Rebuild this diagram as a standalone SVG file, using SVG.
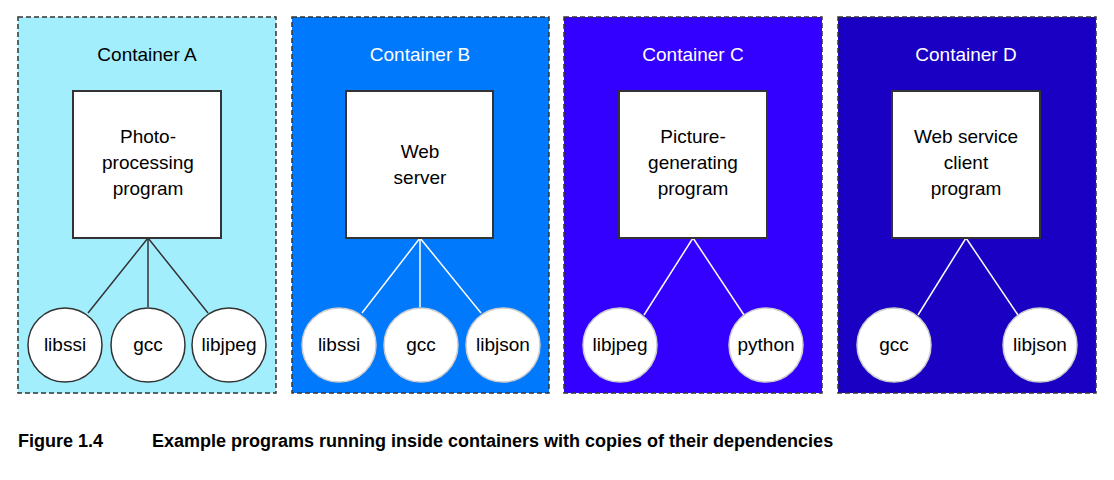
<svg xmlns="http://www.w3.org/2000/svg" width="1114" height="480" viewBox="0 0 1114 480">
<style>
text{font-family:"Liberation Sans",Arial,sans-serif;font-size:19px;text-anchor:middle}
.cont{stroke:#333;stroke-width:1.5;stroke-dasharray:5,3}
.box{fill:#fff;stroke:#333;stroke-width:2}
.lib{fill:#fff;stroke:#333;stroke-width:1.5}
.libw{fill:#fff;stroke:#ccc;stroke-width:1.5}
.t{fill:#fff}
.dk{stroke:#333;stroke-width:1.5}
.lt{stroke:#fff;stroke-width:1.5}
.cap{font-weight:bold;font-size:18px;text-anchor:start}
</style>
<rect width="1114" height="480" fill="#fff"/>
<g id="containerA"><rect class="cont" x="18" y="17" width="258" height="376" fill="#a3eefd"/><text x="147" y="61">Container A</text></g>
<g id="containerB"><rect class="cont" x="292" y="17" width="257" height="376" fill="#0079fd"/><text class="t" x="420" y="61">Container B</text></g>
<g id="containerC"><rect class="cont" x="564" y="17" width="258" height="376" fill="#3300ff"/><text class="t" x="693" y="61">Container C</text></g>
<g id="containerD"><rect class="cont" x="838" y="17" width="258" height="376" fill="#1a00c2"/><text class="t" x="966" y="61">Container D</text></g>
<g id="connectors">
<line class="dk" x1="148" y1="238" x2="88" y2="313"/><line class="dk" x1="148" y1="238" x2="148" y2="307"/><line class="dk" x1="148" y1="238" x2="208" y2="313"/>
<line class="lt" x1="420" y1="238" x2="362" y2="313"/><line class="lt" x1="420" y1="238" x2="420" y2="307"/><line class="lt" x1="420" y1="238" x2="481" y2="313"/>
<line class="lt" x1="693" y1="238" x2="644" y2="315"/><line class="lt" x1="693" y1="238" x2="744" y2="315"/>
<line class="lt" x1="966" y1="238" x2="918" y2="315"/><line class="lt" x1="966" y1="238" x2="1018" y2="315"/>
</g>
<g id="progA"><rect class="box" x="73" y="91" width="148" height="147"/><text x="148" y="143">Photo-</text><text x="148" y="169">processing</text><text x="148" y="195">program</text></g>
<g id="progB"><rect class="box" x="346" y="91" width="147" height="147"/><text x="420" y="158">Web</text><text x="420" y="184">server</text></g>
<g id="progC"><rect class="box" x="619" y="91" width="148" height="147"/><text x="693" y="143">Picture-</text><text x="693" y="169">generating</text><text x="693" y="195">program</text></g>
<g id="progD"><rect class="box" x="892" y="91" width="148" height="147"/><text x="966" y="143">Web service</text><text x="966" y="169">client</text><text x="966" y="195">program</text></g>
<g id="A-libssi"><circle class="lib" cx="65" cy="345" r="37"/><text x="65" y="351">libssi</text></g>
<g id="A-gcc"><circle class="lib" cx="148" cy="345" r="37"/><text x="148" y="351">gcc</text></g>
<g id="A-libjpeg"><circle class="lib" cx="229" cy="345" r="37"/><text x="229" y="351">libjpeg</text></g>
<g id="B-libssi"><circle class="libw" cx="339" cy="345" r="37"/><text x="339" y="351">libssi</text></g>
<g id="B-gcc"><circle class="libw" cx="421" cy="345" r="37"/><text x="421" y="351">gcc</text></g>
<g id="B-libjson"><circle class="libw" cx="503" cy="345" r="37"/><text x="503" y="351">libjson</text></g>
<g id="C-libjpeg"><circle class="libw" cx="620" cy="345" r="37"/><text x="620" y="351">libjpeg</text></g>
<g id="C-python"><circle class="libw" cx="766" cy="345" r="37"/><text x="766" y="351">python</text></g>
<g id="D-gcc"><circle class="libw" cx="894" cy="345" r="37"/><text x="894" y="351">gcc</text></g>
<g id="D-libjson"><circle class="libw" cx="1040" cy="345" r="37"/><text x="1040" y="351">libjson</text></g>
<text class="cap" x="18" y="447">Figure 1.4</text>
<text class="cap" x="152" y="447">Example programs running inside containers with copies of their dependencies</text>
</svg>
